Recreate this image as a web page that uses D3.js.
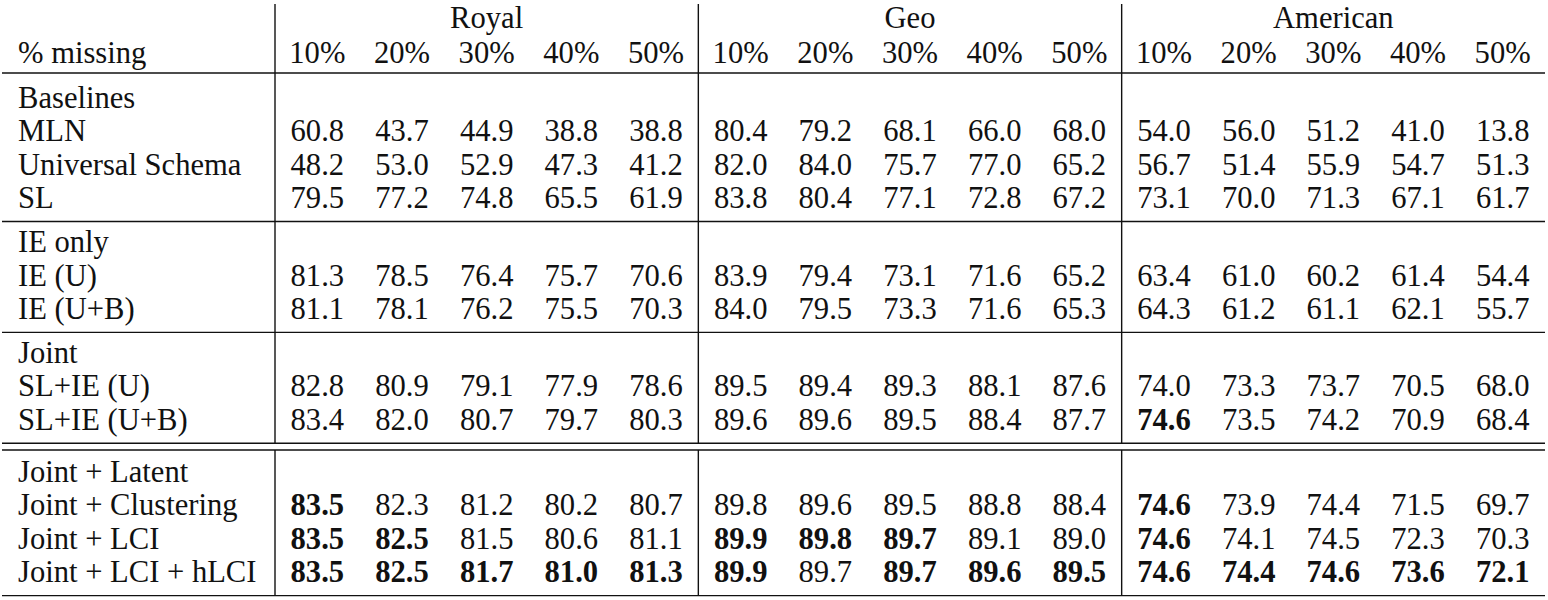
<!DOCTYPE html>
<html>
<head>
<meta charset="utf-8">
<script src="https://cdn.jsdelivr.net/npm/d3@7"></script>
<style>
  body { margin: 0; background: #fff; }
</style>
</head>
<body>
<div id="chart"></div>
<script>
// table values
const datasets = ['Royal', 'Geo', 'American'];
const missingRates = ['10%', '20%', '30%', '40%', '50%'];
const groupNames = ['Baselines', 'IE only', 'Joint', 'Joint + Latent'];
const methods = ['MLN', 'Universal Schema', 'SL', 'IE (U)', 'IE (U+B)', 'SL+IE (U)', 'SL+IE (U+B)',
    'Joint + Clustering', 'Joint + LCI', 'Joint + LCI + hLCI'];
const methodGroup = [0, 0, 0, 1, 1, 2, 2, 3, 3, 3];
const groupRule = ['single', 'single', 'double', 'bottom'];

const royalScores = [
    [60.8, 43.7, 44.9, 38.8, 38.8],
    [48.2, 53.0, 52.9, 47.3, 41.2],
    [79.5, 77.2, 74.8, 65.5, 61.9],
    [81.3, 78.5, 76.4, 75.7, 70.6],
    [81.1, 78.1, 76.2, 75.5, 70.3],
    [82.8, 80.9, 79.1, 77.9, 78.6],
    [83.4, 82.0, 80.7, 79.7, 80.3],
    [83.5, 82.3, 81.2, 80.2, 80.7],
    [83.5, 82.5, 81.5, 80.6, 81.1],
    [83.5, 82.5, 81.7, 81.0, 81.3]
];
const geoScores = [
    [80.4, 79.2, 68.1, 66.0, 68.0],
    [82.0, 84.0, 75.7, 77.0, 65.2],
    [83.8, 80.4, 77.1, 72.8, 67.2],
    [83.9, 79.4, 73.1, 71.6, 65.2],
    [84.0, 79.5, 73.3, 71.6, 65.3],
    [89.5, 89.4, 89.3, 88.1, 87.6],
    [89.6, 89.6, 89.5, 88.4, 87.7],
    [89.8, 89.6, 89.5, 88.8, 88.4],
    [89.9, 89.8, 89.7, 89.1, 89.0],
    [89.9, 89.7, 89.7, 89.6, 89.5]
];
const americanScores = [
    [54.0, 56.0, 51.2, 41.0, 13.8],
    [56.7, 51.4, 55.9, 54.7, 51.3],
    [73.1, 70.0, 71.3, 67.1, 61.7],
    [63.4, 61.0, 60.2, 61.4, 54.4],
    [64.3, 61.2, 61.1, 62.1, 55.7],
    [74.0, 73.3, 73.7, 70.5, 68.0],
    [74.6, 73.5, 74.2, 70.9, 68.4],
    [74.6, 73.9, 74.4, 71.5, 69.7],
    [74.6, 74.1, 74.5, 72.3, 70.3],
    [74.6, 74.4, 74.6, 73.6, 72.1]
];
// [method, dataset, column] shown in bold
const boldCells = [
    [6, 2, 0],
    [7, 0, 0], [7, 2, 0],
    [8, 0, 0], [8, 0, 1], [8, 1, 0], [8, 1, 1], [8, 1, 2], [8, 2, 0],
    [9, 0, 0], [9, 0, 1], [9, 0, 2], [9, 0, 3], [9, 0, 4],
    [9, 1, 0], [9, 1, 2], [9, 1, 3], [9, 1, 4],
    [9, 2, 0], [9, 2, 1], [9, 2, 2], [9, 2, 3], [9, 2, 4]
];

const scores = [royalScores, geoScores, americanScores];

const width = 1548, height = 600;
const fontSize = 30.6;
const tableLeft = 2, tableRight = 1545, labelX = 18;

const svg = d3.select('#chart').append('svg')
    .attr('width', width)
    .attr('height', height);

svg.append('rect').attr('width', width).attr('height', height).attr('fill', '#fff');

// every text goes through this, so the face is set the same way everywhere
const addText = (sel) => sel
    .style('font-family', '"Liberation Serif"')
    .attr('font-size', fontSize)
    .attr('fill', '#111');

// columns: one band per dataset, then one band per missing rate inside it
const xData = d3.scaleBand().domain(datasets).range([275, tableRight]);
const xRate = d3.scaleBand().domain(missingRates).range([0, xData.bandwidth()]);
const colX = (di, ci) => xData(datasets[di]) + xRate(missingRates[ci]) + xRate.bandwidth() / 2;

// rows: group header row + method rows, with extra room where a rule sits
const rows = [];
groupNames.forEach((g, gi) => {
    rows.push({ label: g, group: gi, method: -1 });
    methods.forEach((m, mi) => {
        if (methodGroup[mi] === gi) rows.push({ label: m, group: gi, method: mi });
    });
});
const ruleGap = { single: 10.8, double: 19 };
const yRow = d3.scaleLinear().domain([0, 1]).range([108, 141.35]);
let extra = 0;
rows.forEach((r, i) => {
    if (i > 0 && rows[i - 1].group !== r.group) extra += ruleGap[groupRule[rows[i - 1].group]];
    r.y = yRow(i) + extra;
});

const headY1 = 28, headY2 = 63, headRule = 73;

// horizontal rules
const rules = [{ y: headRule }];
groupNames.forEach((g, gi) => {
    const last = rows.filter(r => r.group === gi).pop();
    const y = last.y + 13.5;
    rules.push({ y });
    if (groupRule[gi] === 'double') rules.push({ y: y + 6.7 });
});
svg.selectAll('line.hrule')
    .data(rules)
    .join('line')
    .attr('class', 'hrule')
    .attr('x1', tableLeft).attr('x2', tableRight)
    .attr('y1', d => d.y).attr('y2', d => d.y)
    .attr('stroke', '#111')
    .attr('stroke-width', 1.4);

// vertical rules, interrupted inside the double rule
const doubleIdx = groupRule.indexOf('double');
const dblTop = rules[doubleIdx + 1].y, dblBottom = rules[doubleIdx + 2].y;
const bottomY = rules[rules.length - 1].y;
const vSegs = [];
[275].concat(datasets.slice(1).map(d => xData(d))).forEach(x => {
    vSegs.push({ x, y1: 4, y2: dblTop });
    vSegs.push({ x, y1: dblBottom, y2: bottomY });
});
svg.selectAll('line.vrule')
    .data(vSegs)
    .join('line')
    .attr('class', 'vrule')
    .attr('x1', d => d.x).attr('x2', d => d.x)
    .attr('y1', d => d.y1).attr('y2', d => d.y2)
    .attr('stroke', '#111')
    .attr('stroke-width', 1.4);

// header
svg.selectAll('text.dataset')
    .data(datasets)
    .join('text')
    .attr('class', 'dataset')
    .attr('x', d => xData(d) + xData.bandwidth() / 2)
    .attr('y', headY1)
    .attr('text-anchor', 'middle')
    .call(addText)
    .text(d => d);

svg.append('text')
    .attr('x', labelX)
    .attr('y', headY2)
    .call(addText)
    .text('% missing');

datasets.forEach((d, di) => {
    svg.selectAll(`text.rate-${di}`)
        .data(missingRates)
        .join('text')
        .attr('class', `rate-${di}`)
        .attr('x', (r, ci) => colX(di, ci))
        .attr('y', headY2)
        .attr('text-anchor', 'middle')
        .call(addText)
        .text(r => r);
});

// row labels
svg.selectAll('text.rowlabel')
    .data(rows)
    .join('text')
    .attr('class', 'rowlabel')
    .attr('x', labelX)
    .attr('y', d => d.y)
    .call(addText)
    .text(d => d.label);

// cells
const isBold = (mi, di, ci) => boldCells.some(b => b[0] === mi && b[1] === di && b[2] === ci);
const fmt = d3.format('.1f');
const cells = [];
rows.filter(r => r.method >= 0).forEach(r => {
    scores.forEach((tbl, di) => {
        tbl[r.method].forEach((v, ci) => {
            cells.push({ v, x: colX(di, ci), y: r.y, bold: isBold(r.method, di, ci) });
        });
    });
});
svg.selectAll('text.cell')
    .data(cells)
    .join('text')
    .attr('class', 'cell')
    .attr('x', d => d.x)
    .attr('y', d => d.y)
    .attr('text-anchor', 'middle')
    .call(addText)
    .attr('font-weight', d => d.bold ? 'bold' : 'normal')
    .text(d => fmt(d.v));
</script>
</body>
</html>
